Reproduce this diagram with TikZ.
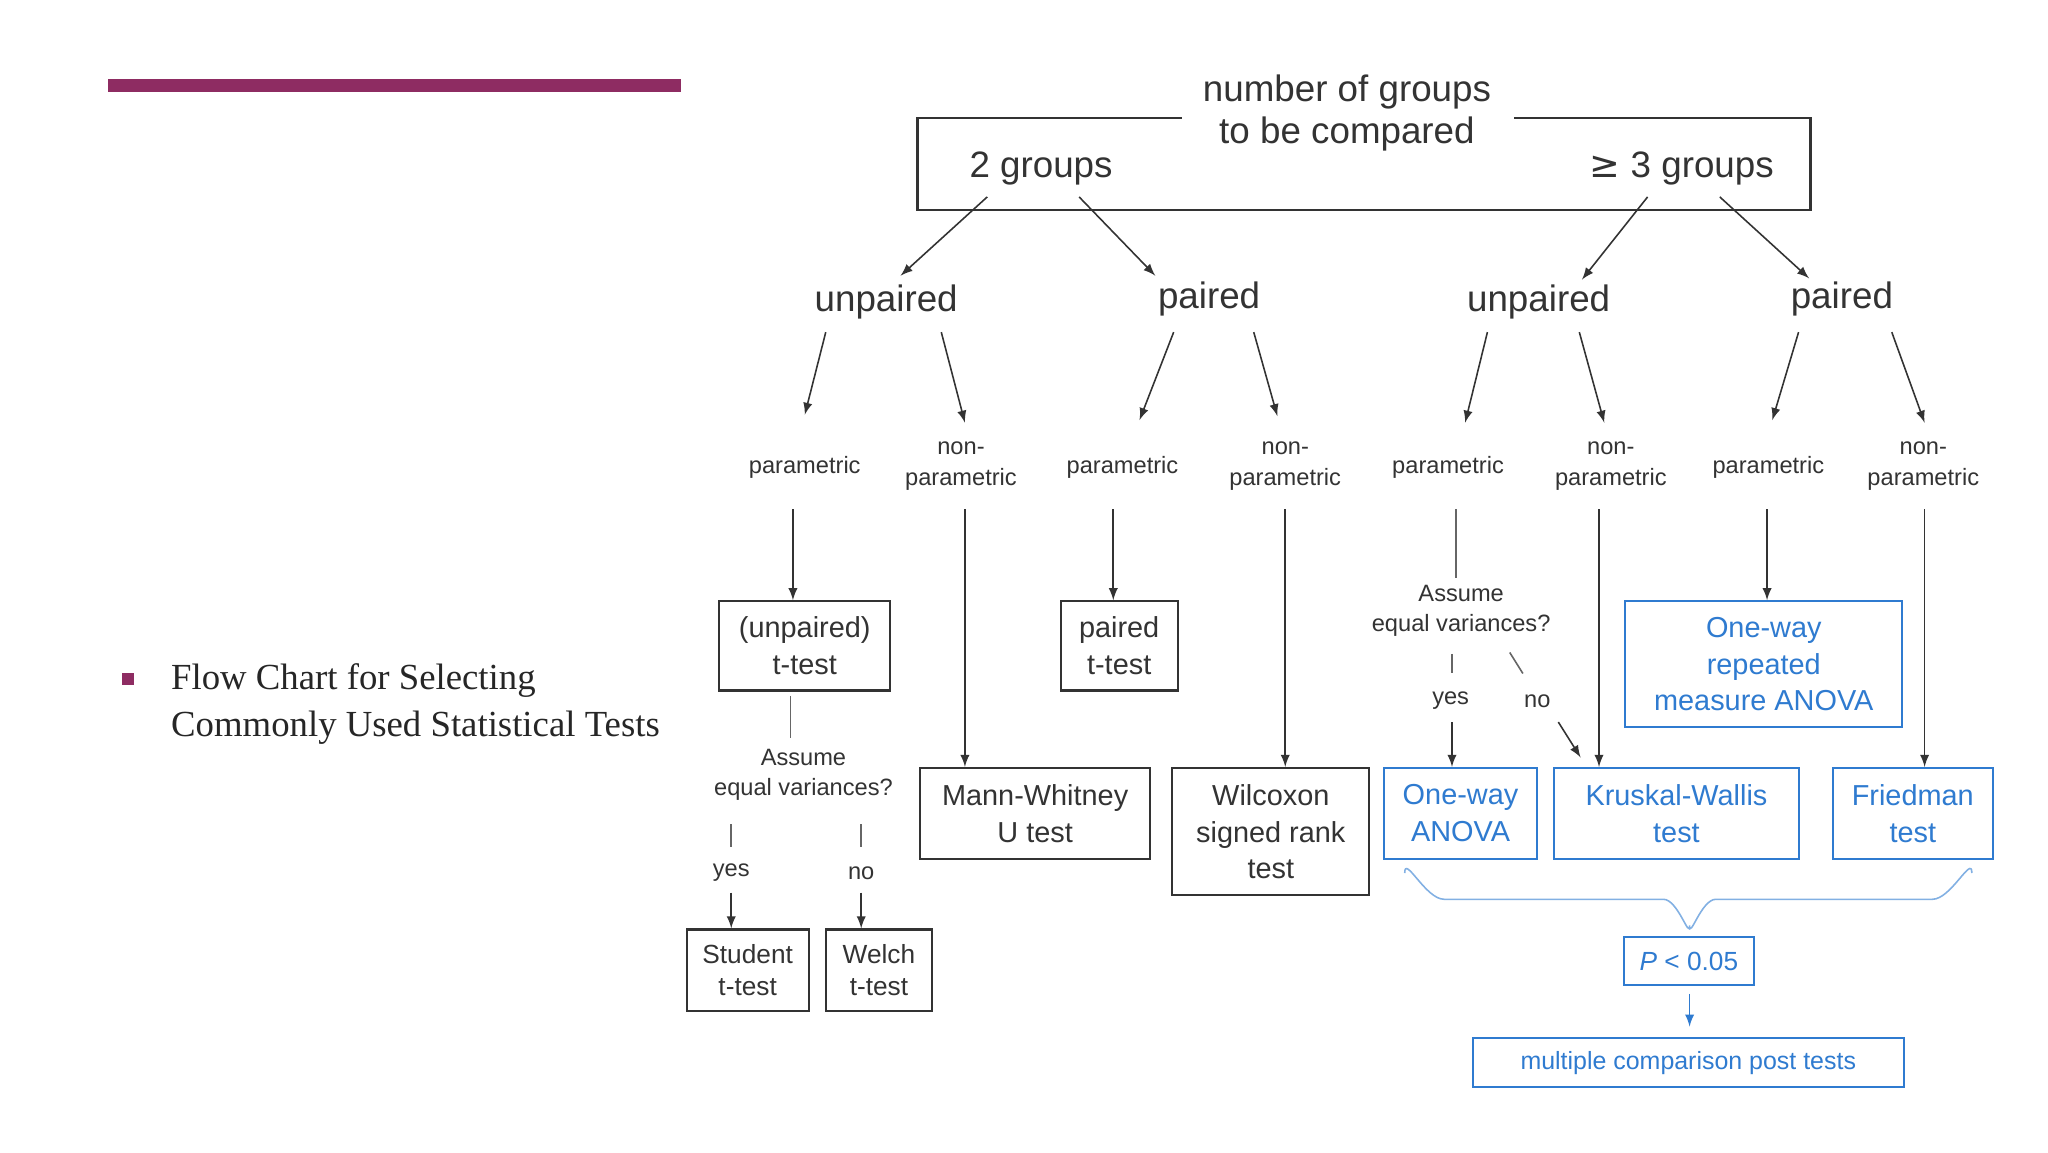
\documentclass[tikz,border=0pt]{standalone}
\usepackage{fontspec}
\setmainfont{Liberation Serif}
\setsansfont{Liberation Sans}
\newfontfamily\djsans{DejaVu Sans}
\definecolor{maroon}{HTML}{8E2C62}
\definecolor{bl}{HTML}{2F7BD0}
\begin{document}
\begin{tikzpicture}[x=0.5pt,y=-0.5pt,
  txt/.style={font=\sffamily, align=center, inner sep=0pt, text=black!80},
  big/.style={txt, font=\sffamily\fontsize{14}{16}\selectfont},
  sm/.style={txt, font=\sffamily\fontsize{9}{11.5}\selectfont},
  bx/.style={draw=black!80, line width=0.8pt, txt, font=\sffamily\fontsize{11}{14}\selectfont},
  blu/.style={bx, draw=bl, text=bl},
  ar/.style={-latex, line width=0.6pt, black!80},
  ln/.style={line width=0.6pt, black!60}]
\useasboundingbox (0,0) rectangle (1560,878);
\fill[white] (0,0) rectangle (1560,878);
\fill[maroon] (82,60) rectangle (519,70);
\fill[maroon] (93,513) rectangle (102,522);
\node[anchor=west, font=\fontsize{14}{18}\selectfont, align=left, inner sep=0pt, text=black!85] (cap) at (130,536) {Flow Chart for Selecting\\Commonly Used Statistical Tests};
% top
\draw[line width=0.9pt, black!80] (900,90)--(699,90)--(699,160)--(1379,160)--(1379,90)--(1153,90);
\node[big] (title) at (1026,86) {number of groups\\to be compared};
\node[big] (g2) at (793,128) {2 groups};
\node[big] (g3) at (1281,128) {{\djsans ≥} 3 groups};
\node[big] (u1) at (675,230) {unpaired};
\node[big] (p1) at (921,228) {paired};
\node[big] (u2) at (1172,230) {unpaired};
\node[big] (p2) at (1403,228) {paired};
\draw[ar] (752,150)--(686,210);
\draw[ar] (822,150)--(880,210);
\draw[ar] (1255,150)--(1205,213);
\draw[ar] (1310,150)--(1378,212);
% level 3
\node[sm] (a1) at (613,356) {parametric};
\node[sm] (b1) at (732,355) {non-\\parametric};
\node[sm] (a2) at (855,356) {parametric};
\node[sm] (b2) at (979,355) {non-\\parametric};
\node[sm] (a3) at (1103,356) {parametric};
\node[sm] (b3) at (1227,355) {non-\\parametric};
\node[sm] (a4) at (1347,356) {parametric};
\node[sm] (b4) at (1465,355) {non-\\parametric};
\draw[ar] (629,253)--(613,316);
\draw[ar] (717,253)--(735,322);
\draw[ar] (894,253)--(868,320);
\draw[ar] (955,253)--(973,317);
\draw[ar] (1133,253)--(1116,322);
\draw[ar] (1203,253)--(1222,322);
\draw[ar] (1370,253)--(1350,320);
\draw[ar] (1441,253)--(1466,322);
% boxes
\node[bx, minimum width=65pt, minimum height=34pt] (ut) at (613,492) {(unpaired)\\t-test};
\node[bx, minimum width=44.5pt, minimum height=34pt] (pt) at (852.5,492) {paired\\t-test};
\node[bx, minimum width=87.5pt, minimum height=34.5pt] (mw) at (788.5,619.5) {Mann-Whitney\\U test};
\node[bx, minimum width=75pt, minimum height=48.5pt] (wx) at (968,633.5) {Wilcoxon\\signed rank\\test};
\node[bx, font=\sffamily\fontsize{10}{12}\selectfont, minimum width=46.5pt, minimum height=31pt] (st) at (569.5,739) {Student\\t-test};
\node[bx, font=\sffamily\fontsize{10}{12}\selectfont, minimum width=40.5pt, minimum height=31pt] (wt) at (669.5,739) {Welch\\t-test};
\node[blu, minimum width=105.5pt, minimum height=48pt] (rm) at (1343.5,506) {One-way\\repeated\\measure ANOVA};
\node[blu, minimum width=58.5pt, minimum height=34.5pt] (oa) at (1112.5,619.5) {One-way\\ANOVA};
\node[blu, minimum width=93pt, minimum height=34.5pt] (kw) at (1277,619.5) {Kruskal-Wallis\\test};
\node[blu, minimum width=61pt, minimum height=34.5pt] (fr) at (1457,619.5) {Friedman\\test};
\node[blu, font=\sffamily\fontsize{10}{12}\selectfont, minimum width=49.5pt, minimum height=18pt] (pv) at (1286.5,732) {\textit{P} < 0.05};
\node[blu, font=\sffamily\fontsize{9.5}{12}\selectfont, minimum width=164pt, minimum height=18.5pt] (mc) at (1286,809.5) {multiple comparison post tests};
% down arrows
\draw[ar] (604,388)--(ut.north -| 604,0);
\draw[ar] (735,388)--(mw.north -| 735,0);
\draw[ar] (848,388)--(pt.north -| 848,0);
\draw[ar] (979,388)--(wx.north -| 979,0);
\draw[ln] (1109,388)--(1109,440);
\draw[ar] (1218,388)--(kw.north -| 1218,0);
\draw[ar] (1346,388)--(rm.north -| 1346,0);
\draw[ar] (1466,388)--(fr.north -| 1466,0);
% left assume
\draw[ln] (602,530)--(602,562);
\node[sm] (as1) at (612,590) {Assume\\equal variances?};
\draw[ln] (557,628)--(557,645);
\draw[ln] (656,628)--(656,645);
\node[sm] (y1) at (557,665) {yes};
\node[sm] (n1) at (656,665) {no};
\draw[ar] (557,680)--(st.north -| 557,0);
\draw[ar] (656,680)--(wt.north -| 656,0);
% right assume
\node[sm] (as2) at (1113,465) {Assume\\equal variances?};
\draw[ln] (1106,498)--(1106,513);
\draw[ln] (1150,497)--(1160,513);
\node[sm] (y2) at (1105,534) {yes};
\node[sm] (n2) at (1171,534) {no};
\draw[ar] (1106,550)--(oa.north -| 1106,0);
\draw[ar] (1187,550)--(1204,577);
% brace
\draw[line width=0.6pt, bl!60] (1070,665) to[out=90,in=180] (1100,685) -- (1267,685) to[out=0,in=-90] (1287,705) to[out=-90,in=180] (1307,685) -- (1472,685) to[out=0,in=90] (1502,665);
\draw[-latex, line width=0.6pt, bl] (1287,757) -- (1287,782);
\end{tikzpicture}
\end{document}
